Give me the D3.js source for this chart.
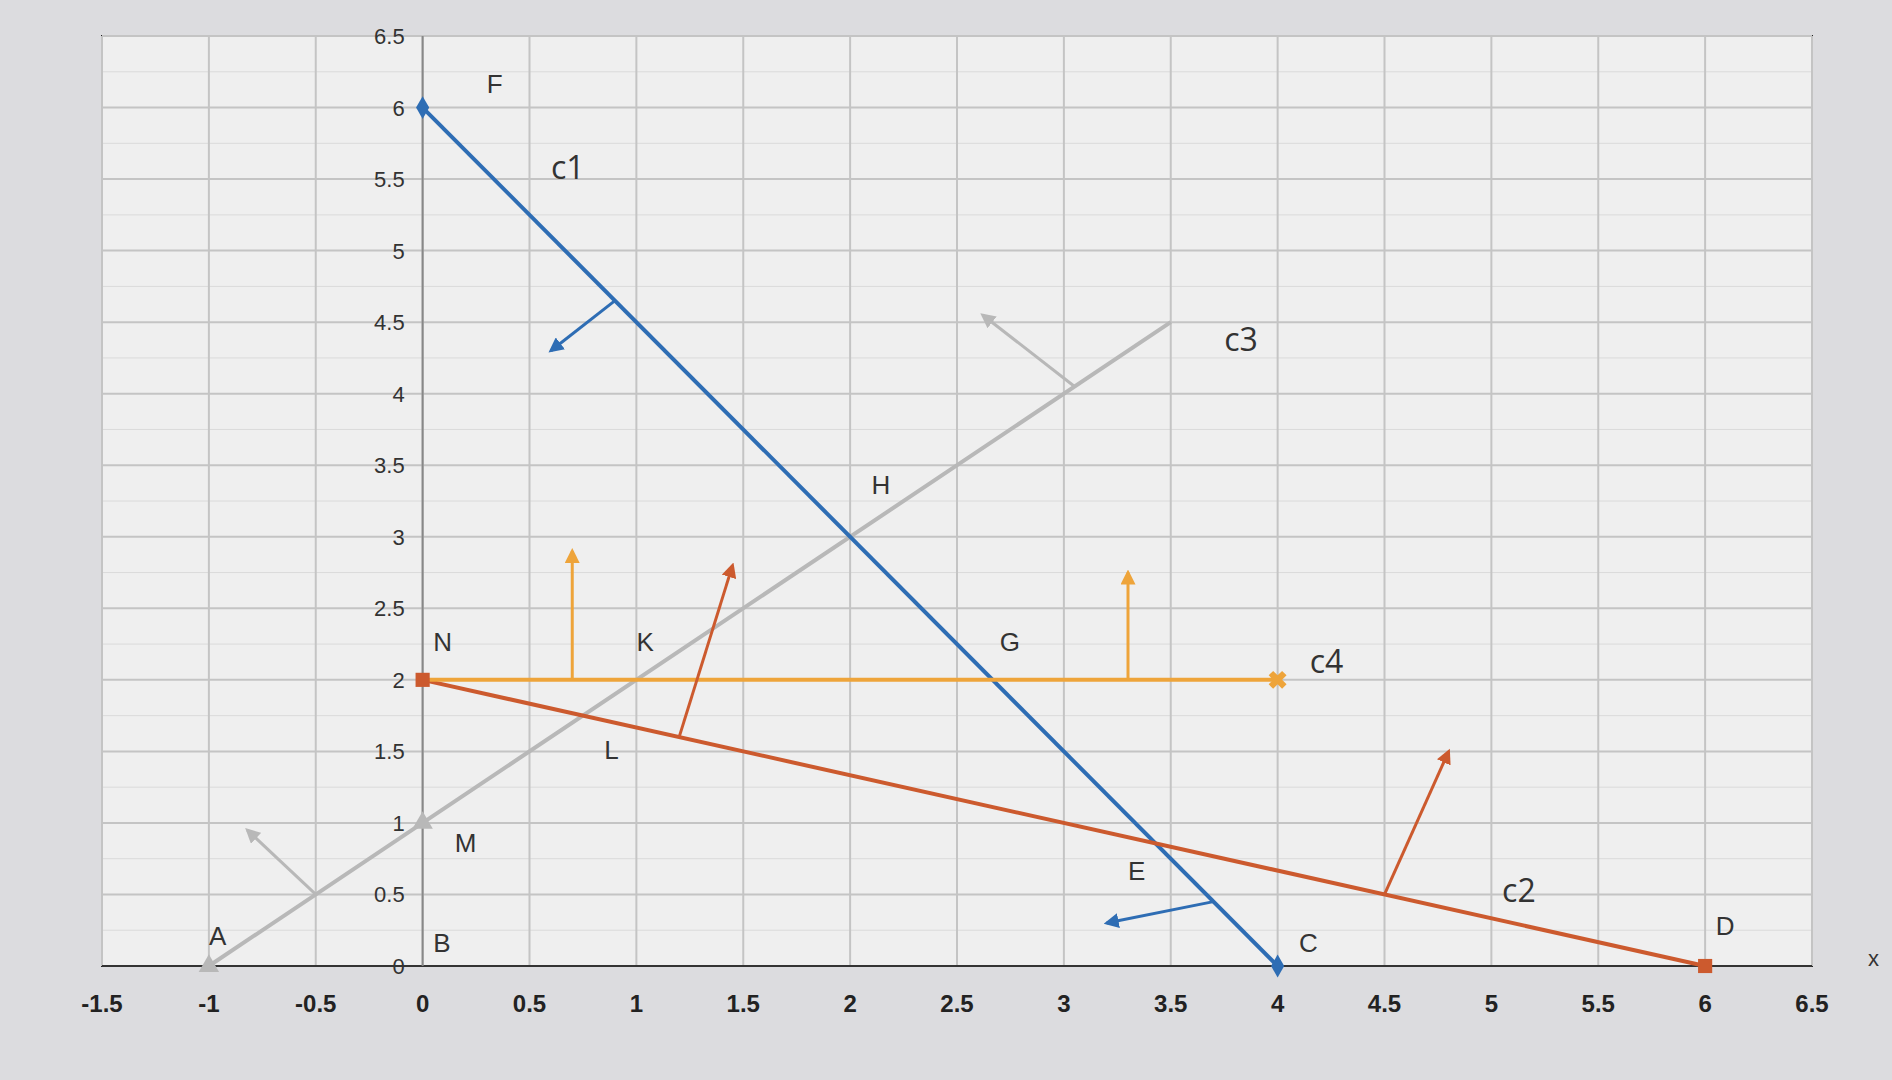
<!DOCTYPE html><html><head><meta charset="utf-8">
<script src="https://cdn.jsdelivr.net/npm/d3@7/dist/d3.min.js"></script>
<style>body{margin:0;background:#dcdcdf}</style></head><body>
<svg id="c" width="1892" height="1080"></svg>
<script>
const xTicks=[-1.5,-1,-0.5,0,0.5,1,1.5,2,2.5,3,3.5,4,4.5,5,5.5,6,6.5];
const yTicks=[0,0.5,1,1.5,2,2.5,3,3.5,4,4.5,5,5.5,6,6.5];
const c1=[[0,6],[4,0]];
const c2=[[0,2],[6,0]];
const c3=[[-1,0],[0,1],[3.5,4.5]];
const c4=[[0,2],[4,2]];
const arrowsC1=[[[0.9,4.65],[0.6,4.3]],[[3.7,0.45],[3.2,0.3]]];
const arrowsC2=[[[1.2,1.6],[1.45,2.8]],[[4.5,0.5],[4.8,1.5]]];
const arrowsC3=[[[-0.5,0.5],[-0.82,0.95]],[[3.05,4.05],[2.62,4.55]]];
const arrowsC4=[[[0.7,2],[0.7,2.9]],[[3.3,2],[3.3,2.75]]];
const labels=[["F",0.3,6.1],["c1",0.6,5.5],["c3",3.75,4.3],["H",2.1,3.3],["N",0.05,2.2],["K",1.0,2.2],["G",2.7,2.2],["c4",4.15,2.05],["L",0.85,1.45],["M",0.15,0.8],["E",3.3,0.6],["c2",5.05,0.45],["A",-1.0,0.15],["B",0.05,0.1],["C",4.1,0.1],["D",6.05,0.22]];
const svg=d3.select("#c");
const x=d3.scaleLinear().domain([-1.5,6.5]).range([102,1812]);
const y=d3.scaleLinear().domain([0,6.5]).range([966,36]);
svg.append("rect").attr("x",102).attr("y",36).attr("width",1710).attr("height",930).attr("fill","#efefef").attr("stroke","#222").attr("stroke-width",2);
const g=svg.append("g");
d3.range(0,6.51,0.25).forEach(v=>g.append("line").attr("x1",x(-1.5)).attr("x2",x(6.5)).attr("y1",y(v)).attr("y2",y(v)).attr("stroke",v*2%1===0?"#c4c4c4":"#dadada").attr("stroke-width",v*2%1===0?2:1));
xTicks.forEach(v=>g.append("line").attr("x1",x(v)).attr("x2",x(v)).attr("y1",y(0)).attr("y2",y(6.5)).attr("stroke","#c4c4c4").attr("stroke-width",2));
svg.append("line").attr("x1",x(-1.5)).attr("x2",x(6.5)).attr("y1",y(0)).attr("y2",y(0)).attr("stroke","#333").attr("stroke-width",2);
svg.append("line").attr("x1",x(0)).attr("x2",x(0)).attr("y1",y(0)).attr("y2",y(6.5)).attr("stroke","#888").attr("stroke-width",2);
xTicks.forEach(v=>svg.append("text").attr("x",x(v)).attr("y",1012).attr("text-anchor","middle").attr("font-family","Liberation Sans").attr("font-weight","bold").attr("font-size",24).attr("fill","#222").text(v));
yTicks.forEach(v=>svg.append("text").attr("x",x(0)-18).attr("y",y(v)+8).attr("text-anchor","end").attr("font-family","Liberation Sans").attr("font-size",22).attr("fill","#333").text(v));
svg.append("text").attr("x",1868).attr("y",966).attr("font-family","Liberation Sans").attr("font-size",22).attr("fill","#333").text("x");
const defs=svg.append("defs");
const cols={c1:"#2e6db4",c2:"#cc5a2e",c3:"#b8b8b8",c4:"#eea43a"};
Object.entries(cols).forEach(([k,c])=>defs.append("marker").attr("id","a"+k).attr("viewBox","0 0 10 10").attr("refX",8).attr("refY",5).attr("markerWidth",5).attr("markerHeight",5).attr("orient","auto").append("path").attr("d","M0,0L10,5L0,10z").attr("fill",c));
const line=d3.line().x(d=>x(d[0])).y(d=>y(d[1]));
[[c3,"c3"],[c1,"c1"],[c2,"c2"],[c4,"c4"]].forEach(([d,k])=>svg.append("path").attr("d",line(d)).attr("fill","none").attr("stroke",cols[k]).attr("stroke-width",4));
[[arrowsC1,"c1"],[arrowsC2,"c2"],[arrowsC3,"c3"],[arrowsC4,"c4"]].forEach(([arr,k])=>arr.forEach(a=>svg.append("path").attr("d",line(a)).attr("stroke",cols[k]).attr("stroke-width",3).attr("marker-end","url(#a"+k+")")));
c1.forEach(p=>svg.append("path").attr("transform",`translate(${x(p[0])},${y(p[1])})`).attr("d",d3.symbol(d3.symbolDiamond,150)()).attr("fill",cols.c1));
c2.forEach(p=>svg.append("path").attr("transform",`translate(${x(p[0])},${y(p[1])})`).attr("d",d3.symbol(d3.symbolSquare,200)()).attr("fill",cols.c2));
c3.slice(0,2).forEach(p=>svg.append("path").attr("transform",`translate(${x(p[0])},${y(p[1])})`).attr("d",d3.symbol(d3.symbolTriangle,180)()).attr("fill",cols.c3));
svg.append("path").attr("transform",`translate(${x(4)},${y(2)}) rotate(45)`).attr("d",d3.symbol(d3.symbolCross,200)()).attr("fill",cols.c4);
labels.forEach(([t,a,b])=>svg.append("text").attr("x",x(a)).attr("y",y(b)).attr("font-family",t.startsWith("c")?"Open Sans":"Liberation Sans").attr("font-size",t.startsWith("c")?32:26).attr("fill","#333").text(t));
</script></body></html>
